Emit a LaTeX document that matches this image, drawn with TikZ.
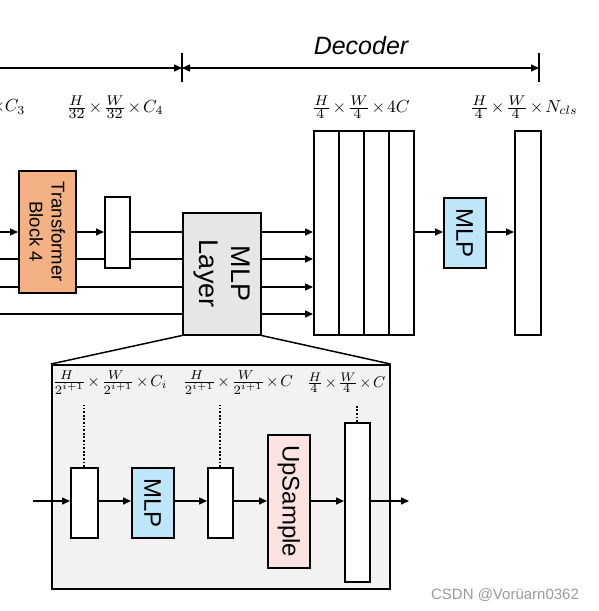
\documentclass[tikz,border=0pt]{standalone}
\usepackage{fontspec}
\setsansfont{Liberation Sans}
\usetikzlibrary{arrows.meta}
\definecolor{tborange}{HTML}{F4B183}
\definecolor{mlpgray}{HTML}{E6E6E6}
\definecolor{mlpblue}{HTML}{BDE6F8}
\definecolor{uppink}{HTML}{FDE2E2}
\definecolor{innerbg}{HTML}{F2F2F2}
\definecolor{wmgray}{HTML}{9A9A9A}
\newcommand{\mlab}[2]{\scalebox{#1}{\medmuskip=2mu$#2$}}
\newcommand{\ff}[2]{\frac{\scalebox{1.15}{$\scriptstyle #1$}}{\scalebox{1.15}{$\scriptstyle #2$}}}
\begin{document}
\begin{tikzpicture}[x=1pt,y=-1pt,line width=1.5pt,
  arr/.style={-{Triangle[length=8pt,width=7pt]}},
  darr/.style={{Triangle[length=8pt,width=7pt]}-{Triangle[length=8pt,width=7pt]}},
  blk/.style={draw,line width=1.5pt,inner sep=0pt,anchor=north west,fill=white},
  lbl/.style={inner sep=0pt},
  vtext/.style={rotate=-90,align=center,inner sep=0pt},
  dots/.style={line width=1.8pt,dash pattern=on 1.8pt off 1.8pt}]
\useasboundingbox (0,0) rectangle (599,611);

% top dimension arrows
\coordinate (t0) at (0,68);
\coordinate (t1) at (182,68);
\coordinate (t2) at (539,68);
\draw[arr] (t0) -- (t1);
\draw[darr] (t1) -- (t2);
\draw (t1) ++(0,-15) -- ++(0,29);
\draw (t2) ++(0,-15) -- ++(0,29);
\node[font=\sffamily\itshape\fontsize{25}{30}\selectfont,inner sep=0pt] (dec) at (361,46) {Decoder};

% top labels
\node[lbl,anchor=east] (l0) at (26,107) {\mlab{1.75}{\times C_3}};
\node[lbl] (l1) at (115,107) {\mlab{1.75}{\ff{H}{32}\times\ff{W}{32}\times C_4}};
\node[lbl] (l2) at (361,107) {\mlab{1.75}{\ff{H}{4}\times\ff{W}{4}\times 4C}};
\node[lbl] (l3) at (524,107) {\mlab{1.75}{\ff{H}{4}\times\ff{W}{4}\times N_{cls}}};

% encoder part
\node[blk,fill=tborange,minimum width=57pt,minimum height=122pt] (tb) at (18,170) {};
\node[vtext,font=\sffamily\fontsize{18.5}{22}\selectfont] (tbt) at (tb.center) {Transformer\\Block 4};
\node[blk,minimum width=25pt,minimum height=71pt] (sb) at (104,196) {};
\node[blk,fill=mlpgray,minimum width=78pt,minimum height=122pt] (mlpl) at (182,212) {};
\node[vtext,font=\sffamily\fontsize{27}{32}\selectfont] (mlplt) at (mlpl.center) {MLP\\Layer};

\coordinate (in1) at (0,232);
\coordinate (in2) at (0,259);
\coordinate (in3) at (0,287);
\coordinate (in4) at (0,314);

\draw[arr] (in1) -- (tb.west |- in1);
\draw[arr] (tb.east |- in1) -- (sb.west |- in1);
\draw (sb.east |- in1) -- (mlpl.west |- in1);
\draw (in2) -- (tb.west |- in2);
\draw (tb.east |- in2) -- (sb.west |- in2);
\draw (sb.east |- in2) -- (mlpl.west |- in2);
\draw (in3) -- (tb.west |- in3);
\draw (tb.east |- in3) -- (mlpl.west |- in3);
\draw (in4) -- (mlpl.west |- in4);

% decoder stack
\node[blk,minimum width=25pt,minimum height=204pt] (c1) at (313,130) {};
\node[blk,minimum width=25pt,minimum height=204pt] (c2) at (338,130) {};
\node[blk,minimum width=25pt,minimum height=204pt] (c3) at (363,130) {};
\node[blk,minimum width=25pt,minimum height=204pt] (c4) at (388,130) {};
\foreach \i in {in1,in2,in3,in4}
  \draw[arr] (mlpl.east |- \i) -- (c1.west |- \i);

\node[blk,fill=mlpblue,minimum width=42pt,minimum height=70pt] (mlp) at (443,197) {};
\node[vtext,font=\sffamily\fontsize{24}{28}\selectfont] (mlpt) at (mlp.center) {MLP};
\node[blk,minimum width=26pt,minimum height=204pt] (out) at (514,130) {};
\draw[arr] (c4.east |- in1) -- (mlp.west |- in1);
\draw[arr] (mlp.east |- in1) -- (out.west |- in1);

% zoom-in box
\node[blk,fill=innerbg,minimum width=338pt,minimum height=224pt] (inner) at (51,364) {};
\draw (mlpl.south west) -- (inner.north west);
\draw (mlpl.south east) -- (inner.north east);

\node[lbl] (il1) at (110,383) {\mlab{1.6}{\ff{H}{2^{i+1}}\times\ff{W}{2^{i+1}}\times C_i}};
\node[lbl] (il2) at (238,383) {\mlab{1.6}{\ff{H}{2^{i+1}}\times\ff{W}{2^{i+1}}\times C}};
\node[lbl] (il3) at (346,383) {\mlab{1.55}{\ff{H}{4}\times\ff{W}{4}\times C}};

\node[blk,minimum width=27pt,minimum height=70pt] (b1) at (70,467) {};
\node[blk,fill=mlpblue,minimum width=42pt,minimum height=70pt] (imlp) at (131,467) {};
\node[vtext,font=\sffamily\fontsize{24}{28}\selectfont] (imlpt) at (imlp.center) {MLP};
\node[blk,minimum width=25pt,minimum height=70pt] (b2) at (207,467) {};
\node[blk,fill=uppink,minimum width=42pt,minimum height=133pt] (up) at (267,434) {};
\node[vtext,font=\sffamily\fontsize{24}{28}\selectfont] (upt) at (up.center) {UpSample};
\node[blk,minimum width=25pt,minimum height=159pt] (tall) at (344,422) {};

\coordinate (iin) at (33,501);
\coordinate (iout) at (409,501);
\draw[arr] (iin) -- (b1.west |- iin);
\draw[arr] (b1.east |- iin) -- (imlp.west |- iin);
\draw[arr] (imlp.east |- iin) -- (b2.west |- iin);
\draw[arr] (b2.east |- iin) -- (up.west |- iin);
\draw[arr] (up.east |- iin) -- (tall.west |- iin);
\draw[arr] (tall.east |- iin) -- (iout);

\draw[dots] (b1.north) -- ++(0,-62);
\draw[dots] (b2.north) -- ++(0,-62);
\draw[dots] (tall.north) -- ++(0,-17);

% watermark
\node[font=\sffamily\fontsize{15}{18}\selectfont,text=wmgray,inner sep=0pt] (wm) at (505,595) {CSDN @Vorüarn0362};
\end{tikzpicture}
\end{document}
